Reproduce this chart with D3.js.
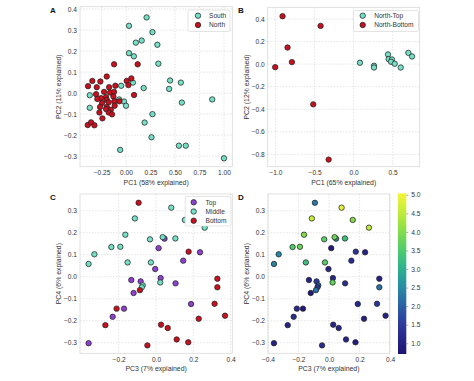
<!DOCTYPE html>
<html>
<head>
<meta charset="utf-8">
<script src="https://cdn.jsdelivr.net/npm/d3@7"></script>
<style>
  body { margin: 0; background: #fff; }
  svg { font-family: 'Liberation Sans', Arial, sans-serif; }
</style>
</head>
<body>
<div id="chart"></div>
<script>
// Panel A: South vs North, PC1 / PC2
const southPC1 = [0.21, 0.03, 0.27, 0.10, 0.16, 0.32, 0.03, 0.08, 0.33, 0.45, 0.56, 0.44, 0.18, 0.07, -0.05,
  -0.37, -0.37, -0.07, -0.02, 0.0, 0.57, 0.88, 0.27, 0.19, 0.26, -0.06, 0.54, 0.61, 1.0];
const southPC2 = [0.36, 0.32, 0.29, 0.24, 0.25, 0.23, 0.19, 0.175, 0.14, 0.06, 0.05, 0.02, 0.024, 0.05, 0.035,
  -0.01, -0.07, -0.03, -0.04, -0.06, -0.045, -0.03, -0.10, -0.14, -0.21, -0.27, -0.25, -0.25, -0.31];
const northPC1 = [-0.122, 0.119, -0.197, -0.344, -0.262, -0.388, 0.007, 0.054, 0.024, -0.109, -0.173, -0.299,
  -0.224, -0.163, -0.122, -0.306, -0.255, -0.204, -0.129, -0.068, 0.082, -0.197, -0.293, -0.245, -0.177,
  -0.119, -0.265, -0.197, -0.156, -0.116, -0.272, -0.177, -0.241, -0.391, -0.357, -0.323, -0.204, -0.143];
const northPC2 = [0.137, 0.137, 0.079, 0.058, 0.055, 0.033, 0.058, 0.070, 0.038, 0.035, 0.028, 0.028,
  0.006, 0.003, 0.006, -0.005, -0.024, -0.019, -0.016, -0.039, -0.009, -0.032, -0.028, -0.047, -0.044,
  -0.039, -0.066, -0.066, -0.079, -0.060, -0.092, -0.092, -0.120, -0.152, -0.139, -0.153, -0.076, -0.101];

// Panel B: North-Top vs North-Bottom
const topPC1 = [0.081, 0.261, 0.261, 0.44, 0.449, 0.491, 0.479, 0.526, 0.603, 0.701, 0.748];
const topPC2 = [0.012, -0.015, -0.03, 0.086, 0.044, 0.041, 0.021, 0.003, -0.03, 0.10, 0.068];
const bottomPC1 = [-0.91, -0.423, -0.846, -0.79, -1.004, -0.517, -0.32];
const bottomPC2 = [0.425, 0.339, 0.147, 0.018, -0.027, -0.357, -0.847];

// Panels C and D: same samples, PC3 / PC4, position group and colour value
const depthPC3 = [0.046, 0.014, 0.236, 0.146, -0.004, 0.025, -0.132, -0.082, 0.105, -0.12, 0.188, -0.171, -0.232, -0.361,
  0.082, -0.113, 0.155, 0.261, -0.164, 0.036, -0.032, 0.104, -0.239, -0.191, -0.33, -0.361, -0.152, -0.027, 0.023, -0.071, -0.076,
  -0.093, 0.175, 0.329, 0.329, -0.086, 0.314, 0.37, -0.211, 0.229, -0.271, 0.027, 0.063, 0.111, 0.173, -0.046];
const depthPC4 = [0.173, 0.130, 0.111, 0.073, 0.035, -0.006, -0.015, -0.021, -0.030, -0.074, -0.124, -0.145, -0.182, -0.302,
  0.314, 0.265, 0.258, 0.223, 0.191, 0.180, 0.170, 0.174, 0.135, 0.136, 0.102, 0.058, 0.065, 0.065, -0.026, -0.039, -0.048,
  0.336, 0.114, -0.009, -0.048, -0.061, -0.123, -0.177, -0.145, -0.191, -0.220, -0.218, -0.233, -0.285, -0.298, -0.312];
const depthGroup = ['Top', 'Top', 'Top', 'Top', 'Top', 'Top', 'Top', 'Top', 'Top', 'Top', 'Top', 'Top', 'Top', 'Top',
  'Middle', 'Middle', 'Middle', 'Middle', 'Middle', 'Middle', 'Middle', 'Middle', 'Middle', 'Middle', 'Middle', 'Middle', 'Middle', 'Middle', 'Middle', 'Middle', 'Middle',
  'Bottom', 'Bottom', 'Bottom', 'Bottom', 'Bottom', 'Bottom', 'Bottom', 'Bottom', 'Bottom', 'Bottom', 'Bottom', 'Bottom', 'Bottom', 'Bottom', 'Bottom'];
const depthValue = [2.5, 0.9, 1.1, 1.3, 1.1, 1.2, 1.1, 1.5, 1.3, 0.9, 1.2, 0.8, 1.3, 1.1,
  4.9, 4.6, 4.0, 4.5, 4.0, 3.8, 3.6, 3.3, 3.5, 3.8, 2.5, 2.4, 3.3, 3.6, 3.7, 2.0, 1.4,
  2.3, 1.4, 1.0, 2.2, 2.2, 1.5, 1.1, 1.2, 1.1, 1.1, 1.2, 1.2, 1.1, 1.0, 1.3];

const colorbarTicks = [1.0, 1.5, 2.0, 2.5, 3.0, 3.5, 4.0, 4.5, 5.0];
// colour map sampled along the colorbar, bottom to top
const colorbarStops = ['#1e1472', '#28268e', '#2c44a2', '#2b6ca8', '#2497a0', '#2fb98b', '#55cf67', '#8ddf45', '#c6ed37', '#f3f53a'];

const color = {
  teal: '#74e0c6',
  red: '#c8101e',
  purple: '#9040d0',
  text: '#333333',
  frame: '#d9d9d9',
  grid: '#d4d4d4'
};

const svg = d3.select('#chart')
  .append('svg')
  .attr('width', 474)
  .attr('height', 381);

const fontSize = 6.6;
const r = 2.7;

// Draws the frame, grid, ticks and titles of one panel, returns its scales
const panel = (opt) => {
  const g = svg.append('g');
  const x = d3.scaleLinear().domain(opt.xDomain).range([opt.x0, opt.x1]);
  const y = d3.scaleLinear().domain(opt.yDomain).range([opt.y1, opt.y0]);

  g.append('rect')
    .attr('x', opt.x0).attr('y', opt.y0)
    .attr('width', opt.x1 - opt.x0).attr('height', opt.y1 - opt.y0)
    .attr('fill', '#fff')
    .attr('stroke', color.frame)
    .attr('stroke-width', 0.8);

  // grid
  g.append('g').selectAll('line')
    .data(opt.xTicks)
    .join('line')
    .attr('x1', (d) => x(d)).attr('x2', (d) => x(d))
    .attr('y1', opt.y0).attr('y2', opt.y1)
    .attr('stroke', color.grid)
    .attr('stroke-width', 0.6)
    .attr('stroke-dasharray', '1.5,1.5');
  g.append('g').selectAll('line')
    .data(opt.yTicks)
    .join('line')
    .attr('x1', opt.x0).attr('x2', opt.x1)
    .attr('y1', (d) => y(d)).attr('y2', (d) => y(d))
    .attr('stroke', color.grid)
    .attr('stroke-width', 0.6)
    .attr('stroke-dasharray', '1.5,1.5');

  const xAxis = g.append('g')
    .attr('transform', `translate(0, ${opt.y1})`)
    .call(d3.axisBottom(x).tickValues(opt.xTicks).tickFormat(d3.format(opt.xFormat)).tickSize(0).tickPadding(4));
  const yAxis = g.append('g')
    .attr('transform', `translate(${opt.x0}, 0)`)
    .call(d3.axisLeft(y).tickValues(opt.yTicks).tickFormat(d3.format(opt.yFormat)).tickSize(0).tickPadding(3));
  [xAxis, yAxis].forEach((a) => {
    a.select('.domain').remove();
    a.selectAll('text')
      .attr('fill', color.text)
      .style('font-size', `${fontSize}px`)
      .style('font-family', 'inherit');
  });

  g.append('text')
    .attr('x', (opt.x0 + opt.x1) / 2)
    .attr('y', opt.y1 + 18)
    .attr('text-anchor', 'middle')
    .attr('fill', color.text)
    .style('font-size', `${fontSize + 0.3}px`)
    .text(opt.xLabel);
  g.append('text')
    .attr('transform', `translate(${opt.yLabelX}, ${(opt.y0 + opt.y1) / 2}) rotate(-90)`)
    .attr('text-anchor', 'middle')
    .attr('fill', color.text)
    .style('font-size', `${fontSize + 0.3}px`)
    .text(opt.yLabel);
  g.append('text')
    .attr('x', opt.letterX)
    .attr('y', opt.y0 + 6)
    .attr('fill', '#111')
    .style('font-size', '8px')
    .style('font-weight', 'bold')
    .text(opt.letter);

  return { g, x, y };
};

const dots = (p, xs, ys, fill) => {
  p.g.append('g').selectAll('circle')
    .data(xs.map((d, i) => ({ x: d, y: ys[i], fill: typeof fill === 'function' ? fill(i) : fill })))
    .join('circle')
    .attr('cx', (d) => p.x(d.x))
    .attr('cy', (d) => p.y(d.y))
    .attr('r', r)
    .attr('fill', (d) => d.fill)
    .attr('stroke', '#222')
    .attr('stroke-width', 0.75);
};

const legend = (p, box, items) => {
  const g = p.g.append('g');
  g.append('rect')
    .attr('x', box.x0).attr('y', box.y0)
    .attr('width', box.x1 - box.x0).attr('height', box.y1 - box.y0)
    .attr('rx', 1.5)
    .attr('fill', '#fff')
    .attr('stroke', color.frame)
    .attr('stroke-width', 0.7);
  const row = g.selectAll('g.item')
    .data(items)
    .join('g')
    .attr('class', 'item')
    .attr('transform', (d, i) => `translate(0, ${box.rowY + i * box.step})`);
  row.append('circle')
    .attr('cx', box.mx).attr('cy', 0).attr('r', r)
    .attr('fill', (d) => d.fill)
    .attr('stroke', '#222')
    .attr('stroke-width', 0.75);
  row.append('text')
    .attr('x', box.tx).attr('y', 2.3)
    .attr('fill', color.text)
    .style('font-size', `${fontSize}px`)
    .text((d) => d.label);
};

// A
const pA = panel({
  x0: 80, x1: 232.3, y0: 6.7, y1: 166.7,
  xDomain: [-0.47, 1.085], yDomain: [-0.35, 0.411],
  xTicks: [-0.25, 0, 0.25, 0.5, 0.75, 1.0], xFormat: '.2f',
  yTicks: [-0.3, -0.2, -0.1, 0, 0.1, 0.2, 0.3, 0.4], yFormat: '.1f',
  xLabel: 'PC1 (58% explained)', yLabel: 'PC2 (11% explained)',
  yLabelX: 60.5, letter: 'A', letterX: 50
});
dots(pA, southPC1, southPC2, color.teal);
dots(pA, northPC1, northPC2, color.red);
legend(pA, { x0: 188, x1: 230, y0: 10, y1: 31.5, rowY: 15.7, step: 9.3, mx: 198, tx: 209 },
  [{ label: 'South', fill: color.teal }, { label: 'North', fill: color.red }]);

// B
const pB = panel({
  x0: 267.7, x1: 419.7, y0: 7.3, y1: 166.7,
  xDomain: [-1.1, 0.846], yDomain: [-0.91, 0.504],
  xTicks: [-1.0, -0.5, 0, 0.5], xFormat: '.1f',
  yTicks: [-0.8, -0.6, -0.4, -0.2, 0, 0.2, 0.4], yFormat: '.1f',
  xLabel: 'PC1 (65% explained)', yLabel: 'PC2 (12% explained)',
  yLabelX: 248.5, letter: 'B', letterX: 238
});
dots(pB, topPC1, topPC2, color.teal);
dots(pB, bottomPC1, bottomPC2, color.red);
legend(pB, { x0: 353.5, x1: 418.5, y0: 10.5, y1: 31.5, rowY: 15.7, step: 9.3, mx: 362.7, tx: 374.2 },
  [{ label: 'North-Top', fill: color.teal }, { label: 'North-Bottom', fill: color.red }]);

// C
const groupColor = { Top: color.purple, Middle: color.teal, Bottom: color.red };
const pC = panel({
  x0: 80, x1: 232.3, y0: 194, y1: 353.3,
  xDomain: [-0.407, 0.409], yDomain: [-0.348, 0.376],
  xTicks: [-0.2, 0, 0.2, 0.4], xFormat: '.1f',
  yTicks: [-0.3, -0.2, -0.1, 0, 0.1, 0.2, 0.3], yFormat: '.1f',
  xLabel: 'PC3 (7% explained)', yLabel: 'PC4 (6% explained)',
  yLabelX: 60.5, letter: 'C', letterX: 50
});
dots(pC, depthPC3, depthPC4, (i) => groupColor[depthGroup[i]]);
legend(pC, { x0: 185.2, x1: 231, y0: 196.5, y1: 226, rowY: 202.3, step: 9.2, mx: 193.7, tx: 205.5 },
  ['Top', 'Middle', 'Bottom'].map((k) => ({ label: k, fill: groupColor[k] })));

// D
const pD = panel({
  x0: 268, x1: 389.7, y0: 194, y1: 353.3,
  xDomain: [-0.4, 0.397], yDomain: [-0.348, 0.376],
  xTicks: [-0.4, -0.2, 0, 0.2, 0.4], xFormat: '.1f',
  yTicks: [-0.3, -0.2, -0.1, 0, 0.1, 0.2, 0.3], yFormat: '.1f',
  xLabel: 'PC3 (7% explained)', yLabel: 'PC4 (6% explained)',
  yLabelX: 248.5, letter: 'D', letterX: 238
});
const cmap = d3.interpolateRgbBasis(colorbarStops);
const valueColor = d3.scaleSequential(cmap).domain([0.71, 5.04]);
dots(pD, depthPC3, depthPC4, (i) => valueColor(depthValue[i]));

// colorbar
const cb = { x0: 398, x1: 406.3, y0: 193.3, y1: 354 };
const cbScale = d3.scaleLinear().domain(valueColor.domain()).range([cb.y1, cb.y0]);
const grad = svg.append('defs').append('linearGradient')
  .attr('id', 'cbgrad')
  .attr('x1', 0).attr('y1', 1).attr('x2', 0).attr('y2', 0);
grad.selectAll('stop')
  .data(d3.range(0, 1.0001, 0.05))
  .join('stop')
  .attr('offset', (d) => d)
  .attr('stop-color', (d) => cmap(d));
svg.append('rect')
  .attr('x', cb.x0).attr('y', cb.y0)
  .attr('width', cb.x1 - cb.x0).attr('height', cb.y1 - cb.y0)
  .attr('fill', 'url(#cbgrad)');
const cbAxis = svg.append('g')
  .attr('transform', `translate(${cb.x1}, 0)`)
  .call(d3.axisRight(cbScale).tickValues(colorbarTicks).tickFormat(d3.format('.1f')).tickSize(2).tickPadding(3));
cbAxis.select('.domain').remove();
cbAxis.selectAll('line').attr('stroke', '#555').attr('stroke-width', 0.5);
cbAxis.selectAll('text')
  .attr('fill', color.text)
  .style('font-size', `${fontSize}px`)
  .style('font-family', 'inherit');
</script>
</body>
</html>
